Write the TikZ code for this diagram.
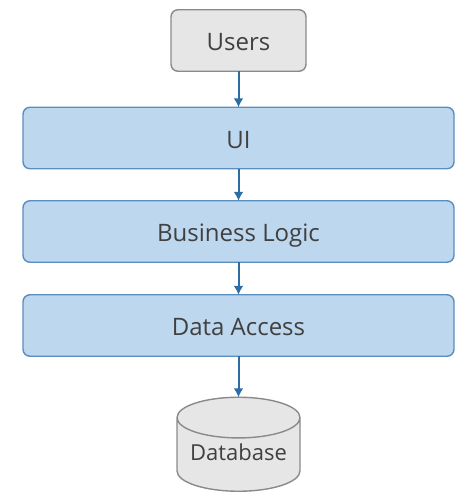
\documentclass[tikz,border=0pt]{standalone}
\usepackage{fontspec}
\setmainfont{Open Sans}
\usetikzlibrary{arrows.meta,positioning,shapes.geometric}
\definecolor{cLayer}{HTML}{BDD7EE}
\definecolor{cEdge}{HTML}{5B8DBF}
\definecolor{cGrey}{HTML}{E7E6E6}
\definecolor{cLine}{HTML}{8A8A8A}
\definecolor{cArrow}{HTML}{2E6CA4}
\definecolor{cText}{HTML}{404040}
\tikzset{layer/.style={draw=cEdge,fill=cLayer,line width=1.4pt,rounded corners=7pt,minimum width=431pt,minimum height=61.5pt,inner sep=0pt,outer sep=0pt,text=cText,text height=20pt,text depth=0pt,font=\fontsize{24}{28}\selectfont},
  actor/.style={layer,draw=cLine,fill=cGrey,minimum width=135pt},
  store/.style={draw=cLine,fill=cGrey,line width=1.4pt,cylinder,shape border rotate=90,aspect=0.42,minimum width=123pt,minimum height=94pt,inner sep=0pt,outer sep=0pt,text=cText,font=\fontsize{22}{26}\selectfont},
  flow/.style={draw=cArrow,line width=2pt,-{Latex[length=9pt,width=10pt]}}}
\begin{document}
\begin{tikzpicture}[x=1pt,y=1pt]
  \useasboundingbox (0,0) rectangle (474,-501);
  \node[actor] (users) at (238.5,-40.5) {Users};
  \node[layer,below=36pt of users] (ui) {UI};
  \node[layer,below=32pt of ui] (logic) {Business Logic};
  \node[layer,below=32.5pt of logic] (access) {Data Access};
  \node[store,below=41pt of access] (db) {\raisebox{5pt}{Database}};
  \draw[flow] (users) -- (ui);
  \draw[flow] (ui) -- (logic);
  \draw[flow] (logic) -- (access);
  \draw[flow] (access) -- (db);
\end{tikzpicture}
\end{document}
